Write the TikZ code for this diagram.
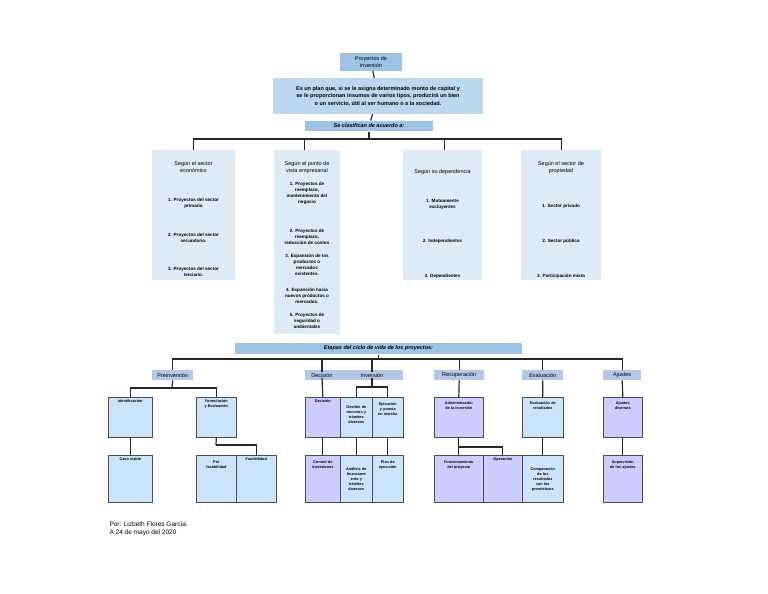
\documentclass[tikz,border=0pt]{standalone}
\usepackage{fontspec}
\setmainfont{Liberation Sans}
\begin{document}
\begin{tikzpicture}[x=1pt,y=-1pt]
\definecolor{barblue}{RGB}{157,195,230}
\definecolor{descblue}{RGB}{189,215,238}
\definecolor{paleblue}{RGB}{221,235,247}
\definecolor{stageblue}{RGB}{180,199,231}
\definecolor{cellblue}{RGB}{204,228,250}
\definecolor{cellpurple}{RGB}{204,204,255}
\tikzset{
  box/.style={draw=none,fill=paleblue,align=center,font=\fontsize{4.6}{6}\selectfont\bfseries,inner sep=1pt},
  cell/.style={draw=black!70,line width=0.6pt,align=center,anchor=north west,font=\fontsize{3.8}{5}\selectfont\bfseries,inner sep=1pt,text width=#1-2pt},
  blue/.style={fill=cellblue},
  purple/.style={fill=cellpurple},
  stage/.style={fill=stageblue,font=\fontsize{5.5}{6}\selectfont,inner sep=0.5pt,anchor=north west},
  line/.style={draw=black!85,line width=1.2pt}
}
\useasboundingbox (0,0) rectangle (768,594);
% top
\node[fill=barblue,minimum width=62pt,minimum height=18pt,align=center,font=\fontsize{5.5}{6.5}\selectfont] (title) at (371,62) {Proyectos de\\ inversión};
\node[fill=descblue,minimum width=210pt,minimum height=36pt,align=center,font=\fontsize{5.5}{7.5}\selectfont\bfseries] (desc) at (378,96) {Es un plan que, si se le asigna determinado monto de capital y\\ se le proporcionan insumos de varios tipos, producirá un bien\\ o un servicio, útil al ser humano o a la sociedad.};
\node[fill=barblue,minimum width=128pt,minimum height=10pt,font=\fontsize{5.5}{6}\selectfont\bfseries\itshape] (clas) at (369,126) {Se clasifican de acuerdo a:};
\draw[line] (title) -- (desc);
\draw[line] (desc) -- (clas);
% classification boxes
\node[box,minimum width=83pt,minimum height=130pt,anchor=north west] (s1) at (152,150) {};
\node[font=\fontsize{5.5}{7}\selectfont,align=center] (s1t) at (193.5,167) {Según el sector\\ económico};
\node[box] (s1a) at (193.5,203) {1. Proyectos del sector\\ primario};
\node[box] (s1b) at (193.5,238) {2. Proyectos del sector\\ secundario.};
\node[box] (s1c) at (193.5,272) {3. Proyectos del sector\\ terciario.};
\node[box,minimum width=66pt,minimum height=184pt,anchor=north west] (s2) at (274,150) {};
\node[font=\fontsize{5.5}{7}\selectfont,align=center] (s2t) at (307,168) {Según el punto de\\ vista empresarial};
\node[box] (s2a) at (307,193) {1. Proyectos de\\ reemplazo,\\ mantenimiento del\\ negocio};
\node[box] (s2b) at (307,237) {2. Proyectos de\\ reemplazo,\\ reducción de costos};
\node[box] (s2c) at (307,265) {3. Expansión de los\\ productos o\\ mercados\\ existentes.};
\node[box] (s2d) at (307,296) {4. Expansión hacia\\ nuevos productos o\\ mercados.};
\node[box] (s2e) at (307,321) {5. Proyectos de\\ seguridad o\\ ambientales};
\node[box,minimum width=79pt,minimum height=130pt,anchor=north west] (s3) at (403,150) {};
\node[font=\fontsize{5.5}{7}\selectfont] (s3t) at (442.5,172) {Según su dependencia};
\node[box] (s3a) at (442.5,204) {1. Mutuamente\\ excluyentes};
\node[box] (s3b) at (442.5,241) {2. Independientes};
\node[box] (s3c) at (442.5,276) {3. Dependientes};
\node[box,minimum width=80pt,minimum height=130pt,anchor=north west] (s4) at (521,150) {};
\node[font=\fontsize{5.5}{7}\selectfont,align=center] (s4t) at (561,168) {Según el sector de\\ propiedad};
\node[box] (s4a) at (561,206) {1. Sector privado};
\node[box] (s4b) at (561,241) {2. Sector público};
\node[box] (s4c) at (561,276) {3. Participación mixta};
\coordinate (j1) at (369,139);
\draw[line] (clas) -- (j1);
\draw[line] (j1) -| (s1.north);
\draw[line] (j1) -| ([xshift=-3pt]s2.north);
\draw[line] (j1) -| ([xshift=2pt]s3.north);
\draw[line] (j1) -| (s4.north);
% stages
\node[fill=barblue,minimum width=287pt,minimum height=9pt,font=\fontsize{5.5}{6}\selectfont\bfseries\itshape] (eta) at (378.5,348.5) {Etapas del ciclo de vida de los proyectos:};
\coordinate (j2) at (378.5,359);
\draw[line] (eta) -- (j2);
\node[stage,minimum width=41pt,minimum height=10pt] (pre) at (152,370) {Preinversión};
\fill[stageblue] (305,370) rectangle (403,380);
\node[font=\fontsize{5.5}{6}\selectfont,inner sep=0.5pt] (dec) at (322,375) {Decisión};
\node[font=\fontsize{5.5}{6}\selectfont,inner sep=0.5pt] (inv) at (372,375) {Inversión};
\node[stage,minimum width=50pt,minimum height=10pt] (rec) at (434,370) {Recuperación};
\node[stage,minimum width=41pt,minimum height=10pt] (eva) at (522,370) {Evaluación};
\node[stage,minimum width=38pt,minimum height=10pt] (aju) at (603,370) {Ajustes};
\draw[line] (j2) -| (pre.north);
\draw[line] (j2) -| (dec.north);
\draw[line] (j2) -| (inv.north);
\draw[line] (j2) -| (rec.north);
\draw[line] (j2) -| (eva.north);
\draw[line] (j2) -| (aju.north);
% row 1
\tikzset{r1/.style={cell=#1,minimum height=40pt,text depth=33pt}}
\node[r1=44pt,blue] (ide) at (108,397) {Identificación};
\node[r1=40pt,blue] (for) at (196,397) {Formulación\\ y Evaluación};
\node[r1=35pt,purple] (de1) at (305,397) {Decisión};
\node[r1=32pt,blue,text depth=20pt] (ges) at (340,397) {Gestión de\\ recursos y\\ trámites\\ diversos};
\node[r1=31pt,blue,text depth=26pt] (eje) at (372,397) {Ejecución\\ y puesta\\ en marcha};
\node[r1=49pt,purple,text depth=28pt] (adm) at (434,397) {Administración\\ de la inversión};
\node[r1=41pt,blue,text depth=28pt] (ev1) at (522,397) {Evaluación de\\ resultados};
\node[r1=39pt,purple,text depth=28pt] (aj1) at (603,397) {Ajustes\\ diversos};
% row 2
\tikzset{r2/.style={cell=#1,minimum height=47pt,text depth=40pt}}
\node[r2=44pt,blue] (cas) at (108,455) {Caso viable};
\node[r2=40pt,blue,text depth=34pt] (pfa) at (196,455) {Pre\\ factibilidad};
\node[r2=40pt,blue] (fac) at (236,455) {Factibilidad};
\node[r2=35pt,purple,text depth=34pt] (con) at (305,455) {Control de\\ inversiones};
\node[r2=32pt,blue,text depth=20pt] (ana) at (340,455) {Análisis de\\ financiami\\ ento y\\ trámites\\ diversos};
\node[r2=31pt,blue,text depth=34pt] (pla) at (372,455) {Plan de\\ ejecución};
\node[r2=49pt,purple,text depth=34pt] (fun) at (434,455) {Funcionamiento\\ del proyecto};
\node[r2=39pt,purple] (ope) at (483,455) {Operación};
\node[r2=41pt,blue,text depth=20pt] (com) at (522,455) {Comparación\\ de los\\ resultados\\ con los\\ pronósticos};
\node[r2=39pt,purple,text depth=34pt] (sup) at (603,455) {Supervisión\\ de los ajustes};
% connectors
\coordinate (k1) at (172,388);
\draw[line] (pre.south) -- (k1);
\draw[line] (k1) -| (ide.north);
\draw[line] (k1) -| (for.north);
\draw[line] (ide.south) -- (cas.north);
\coordinate (k2) at (216,445);
\draw[line] (for.south) -- (k2);
\draw[line] (k2) -| (fac.north);
\draw[line] (dec.south) -- (de1.north);
\draw[line] (de1.south) -- (con.north);
\coordinate (k3) at (372,387);
\draw[line] (inv.south) -- (k3);
\draw[line] (k3) -| (ges.north);
\draw[line] (k3) -| (eje.north);
\draw[line] (ges.south) -- (ana.north);
\draw[line] (eje.south) -- (pla.north);
\draw[line] (rec.south) -- (adm.north);
\coordinate (k4) at (458,447);
\draw[line] (adm.south) -- (fun.north);
\draw[line] (k4) -| (ope.north);
\draw[line] (eva.south) -- (ev1.north);
\draw[line] (ev1.south) -- (com.north);
\draw[line] (aju.south) -- (aj1.north);
\draw[line] (aj1.south) -- (sup.north);
% footer
\node[anchor=west,font=\fontsize{6.5}{8}\selectfont,align=left] (foot) at (106,529) {Por: Lizbeth Flores García.\\ A 24 de mayo del 2020};
\end{tikzpicture}
\end{document}
